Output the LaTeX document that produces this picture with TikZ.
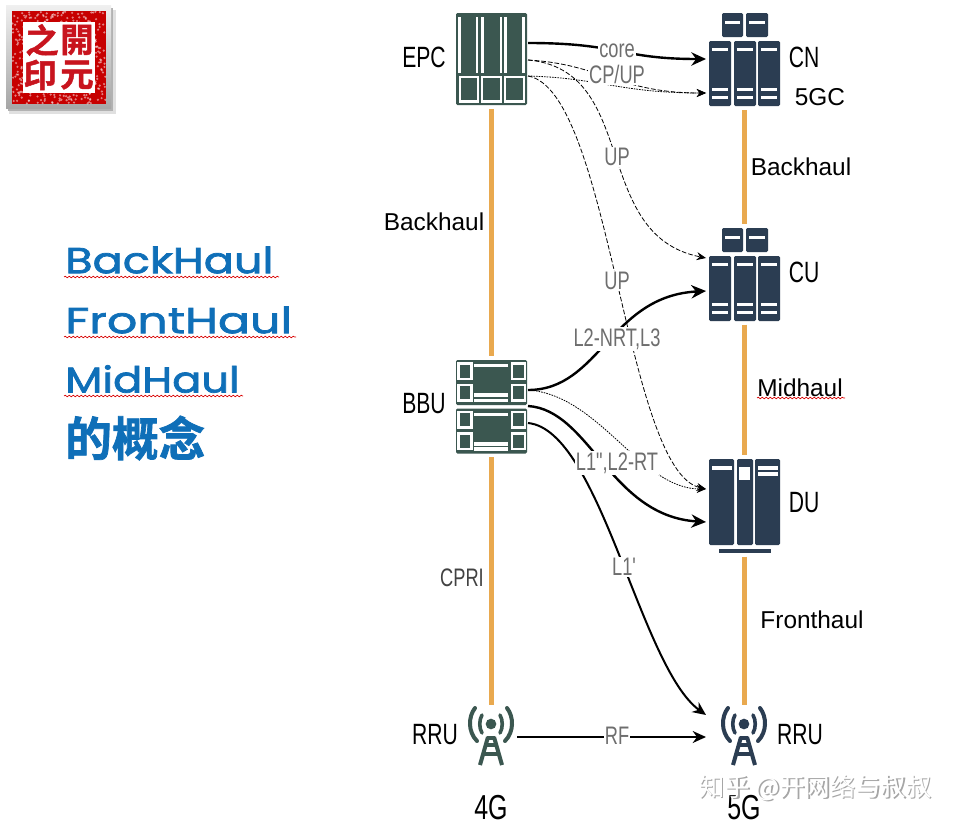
\documentclass[tikz,border=0pt]{standalone}
\usepackage{fontspec}
\usetikzlibrary{arrows.meta,decorations.pathmorphing}
\setmainfont{Liberation Sans}
\newfontfamily\narfont[FakeStretch=0.72]{Liberation Sans}
\newfontfamily\widefontA[FakeStretch=1.24,FakeBold=2]{Poppins}
\newfontfamily\widefontB[FakeStretch=1.32,FakeBold=2]{Poppins}
\newfontfamily\widefontC[FakeStretch=1.2,FakeBold=2]{Poppins}
\newfontfamily\cjkb[FakeBold=1.5]{Noto Sans CJK TC Bold}
\newfontfamily\cjkn{Noto Sans CJK SC}
\definecolor{orangeline}{HTML}{E9A94F}
\definecolor{gicon}{HTML}{3B5750}
\definecolor{bicon}{HTML}{2B3D52}
\definecolor{titleblue}{HTML}{0F6FB8}
\definecolor{sealred}{HTML}{C8141E}
\definecolor{labelgrey}{HTML}{6E6E6E}
\def\pxu{0.75pt}
\tikzset{
 x=0.75pt,y=-0.75pt,
 iconbox/.style={inner sep=0,outer sep=0,draw=none},
 link/.style={draw=orangeline,line width=3.6pt,shorten <=3pt,shorten >=3pt},
 bigarrow/.style={draw=black,line width=1.8pt,-{Stealth[length=11pt,width=10pt]}},
 thinarrow/.style={draw=black,line width=1.2pt,-{Stealth[length=10pt,width=9pt]}},
 dasharrow/.style={draw=black,line width=0.6pt,dash pattern=on 3.5pt off 1.5pt,-{Stealth[length=7pt,width=6pt]}},
 dotarrow/.style={draw=black,line width=0.6pt,dash pattern=on 1.2pt off 0.8pt,-{Stealth[length=7pt,width=6pt]}},
 greylab/.style={font=\narfont\fontsize{19}{19}\selectfont,text=labelgrey,fill=white,inner sep=1pt},
 devlab/.style={font=\narfont\fontsize{22}{22}\selectfont,text=black,inner sep=0},
 glab/.style={font=\narfont\fontsize{26}{26}\selectfont,text=black,inner sep=0},
 halflab/.style={font=\fontsize{18.3}{18.3}\selectfont,text=black,inner sep=0},
 titlelab/.style={anchor=west,inner sep=0,text=titleblue},
 wavy/.style={draw=red!85!black,line width=0.5pt,decorate,decoration={snake,amplitude=0.6pt,segment length=3pt}},
 wbar/.style={fill=white,draw=none},
 wbox/.style={draw=white,line width=1.9pt,fill=none},
 sealchar/.style={inner sep=0,text=sealred,font=\cjkb\fontsize{25}{25}\selectfont},
}
\newcommand{\srvcolumn}[2]{% x1 x2
 \fill[bicon,rounded corners=1pt] (#1,28) rectangle (#2,93);
 \fill[wbar] (#1+3,35) rectangle (#2-3,38);
 \fill[wbar] (#1+3,75) rectangle (#2-3,78);
 \fill[wbar] (#1+3,83) rectangle (#2-3,86);
}
\newcommand{\servericon}[1]{% y of the top of the upper boxes
 \begin{scope}[shift={(0,#1)}]
  \fill[bicon,rounded corners=1pt] (722,0) rectangle (743,24);
  \fill[bicon,rounded corners=1pt] (746,0) rectangle (768,24);
  \fill[wbar] (725,8) rectangle (740,11);
  \fill[wbar] (749,8) rectangle (765,11);
  \srvcolumn{709}{731}
  \srvcolumn{734}{756}
  \srvcolumn{758}{780}
 \end{scope}
}
\newcommand{\bbuunit}[1]{% y of the top
 \begin{scope}[shift={(0,#1)}]
  \fill[gicon,rounded corners=1pt] (456,0) rectangle (527,45);
  \draw[wbox] (458.5,3.5) rectangle (471.5,19);
  \draw[wbox] (458.5,25) rectangle (471.5,40.5);
  \draw[wbox] (512,3.5) rectangle (525,19);
  \draw[wbox] (512,25) rectangle (525,40.5);
  \fill[wbar] (474,4) rectangle (508,7);
  \fill[wbar] (474,33) rectangle (508,37);
  \fill[wbar] (474,38.5) rectangle (508,42);
 \end{scope}
}
\newcommand{\rruicon}[3]{% x, y of centre, colour
 \begin{scope}[shift={(#1,#2)},#3,line cap=round]
  \fill (0,0) circle[radius=4pt];
  \draw[line width=3pt] (-16,-16) .. controls (-23,-7) and (-23,8) .. (-14,17);
  \draw[line width=3pt] (16,-16) .. controls (23,-7) and (23,8) .. (14,17);
  \draw[line width=2.7pt] (-9,-9) .. controls (-12,-4) and (-12,4) .. (-9,9);
  \draw[line width=2.7pt] (9,-9) .. controls (12,-4) and (12,4) .. (9,9);
  \draw[line width=3pt,line cap=butt] (-3,13) -- (-11,41);
  \draw[line width=3pt,line cap=butt] (3,13) -- (11,41);
  \draw[line width=2.5pt,line cap=butt] (-4,14) -- (4,14);
  \draw[line width=2.5pt,line cap=butt] (-6,21) -- (6,21);
  \draw[line width=2.5pt,line cap=butt] (-9,30) -- (9,30);
 \end{scope}
}
\begin{document}
\begin{tikzpicture}
\useasboundingbox (0,0) rectangle (957,828);
\fill[white] (0,0) rectangle (957,828);

% seal
\fill[black!12] (9,10) rectangle (116,114);
\fill[black!30] (8,8) rectangle (113,111);
\shade[top color=black!6,bottom color=black!35] (6,5) rectangle (111,108);
\fill[red!78!black] (12,11) rectangle (106,104);
\pgfmathsetseed{7}
\foreach \i in {1,...,520}{
 \pgfmathsetmacro{\sx}{12.5+rnd*93}
 \pgfmathsetmacro{\sy}{11.5+rnd*92}
 \fill[white,opacity=0.5] (\sx,\sy) circle[radius=0.9pt];
}
\fill[white] (23,22) rectangle (95,93);
\node[sealchar] (sealA) at (42,40) {之};
\node[sealchar] (sealB) at (77,40) {開};
\node[sealchar] (sealC) at (40,75) {印};
\node[sealchar] (sealD) at (77,75) {元};

% title
\node[titlelab,font=\widefontA\fontsize{27}{27}\selectfont] (t1) at (65,260) {BackHaul};
\node[titlelab,font=\widefontB\fontsize{27}{27}\selectfont] (t2) at (65,320) {FrontHaul};
\node[titlelab,font=\widefontC\fontsize{27}{27}\selectfont] (t3) at (65,379) {MidHaul};
\node[titlelab,font=\cjkb\fontsize{35}{35}\selectfont] (t4) at (65,438) {的概念};
\draw[wavy] (64,277) -- (279,277);
\draw[wavy] (64,337) -- (296,337);
\draw[wavy] (64,396) -- (243,396);

% anchor nodes
\node[iconbox,minimum width=71*\pxu,minimum height=92*\pxu] (epc) at (491.5,59) {};
\node[iconbox,minimum width=71*\pxu,minimum height=93*\pxu] (cn) at (744.5,59.5) {};
\node[iconbox,minimum width=71*\pxu,minimum height=93*\pxu] (cu) at (744.5,274) {};
\node[iconbox,minimum width=71*\pxu,minimum height=93*\pxu] (bbu) at (491.5,406.5) {};
\node[iconbox,minimum width=71*\pxu,minimum height=94*\pxu] (du) at (744.5,505.5) {};
\node[iconbox,minimum width=46*\pxu,minimum height=52*\pxu] (rrul) at (491.5,735) {};
\node[iconbox,minimum width=46*\pxu,minimum height=52*\pxu] (rrur) at (744.5,735) {};

% orange links
\draw[link] (epc) -- (bbu);
\draw[link] (bbu) -- (rrul);
\draw[link] (cn) -- (cu);
\draw[link] (cu) -- (du);
\draw[link] (du) -- (rrur);

% EPC icon
\fill[gicon,rounded corners=1pt] (456,13) rectangle (527,105);
\foreach \xx in {459.5,477,482.5,501,505.5,523.5}{\fill[white] (\xx-1.2,17) rectangle (\xx+1.2,73);}
\draw[wbox] (460,77) rectangle (478,101.5);
\draw[wbox] (482,77) rectangle (501,101.5);
\draw[wbox] (505,77) rectangle (524,101.5);

% server icons
\servericon{13}
\servericon{228}

% BBU icon
\bbuunit{360}
\bbuunit{408.5}

% DU icon
\fill[bicon,rounded corners=1pt] (709,459) rectangle (734,545);
\fill[bicon,rounded corners=1pt] (737,459) rectangle (753,545);
\fill[bicon,rounded corners=1pt] (755,459) rectangle (780,545);
\fill[bicon] (719,549) rectangle (771,552.5);
\fill[wbar] (712,466) rectangle (732,470);
\fill[wbar] (739,467) rectangle (750,480);
\fill[wbar] (758,466) rectangle (778,470);
\fill[wbar] (758,472) rectangle (778,476);

% RRU icons
\rruicon{491}{724}{color=gicon}
\rruicon{744}{724}{color=bicon}

% connector ends
\coordinate (epcA) at (528,43);
\coordinate (epcB) at (528,60);
\coordinate (epcC) at (528,76);
\coordinate (bbuA) at (528,390);
\coordinate (bbuB) at (528,406);
\coordinate (bbuC) at (528,423);
\coordinate (rruO) at (517,737);
\coordinate (cnA) at (706,59);
\coordinate (cnB) at (706,93);
\coordinate (cuA) at (706,258);
\coordinate (cuB) at (706,291);
\coordinate (duA) at (706,489);
\coordinate (duB) at (706,522);
\coordinate (rruA) at (706,715);
\coordinate (rruB) at (706,737);

% connectors
\draw[dasharrow] (epcB) .. controls (640,70) and (590,235) .. (cuA);
\draw[dasharrow] (epcC) .. controls (610,90) and (625,471) .. (duA);
\draw[dasharrow] (epcB) .. controls (600,64) and (620,93) .. (cnB);
\draw[dotarrow] (epcC) .. controls (600,78) and (620,93) .. (cnB);
\draw[dotarrow] (bbuA) .. controls (600,395) and (640,489) .. (duA);
\draw[bigarrow] (epcA) .. controls (620,43) and (620,59) .. (cnA);
\draw[bigarrow] (bbuA) .. controls (600,390) and (610,296) .. (cuB);
\draw[bigarrow] (bbuB) .. controls (590,410) and (610,516) .. (duB);
\draw[thinarrow,line width=1.5pt] (bbuC) .. controls (600,430) and (640,667) .. (rruA);
\draw[thinarrow] (rruO) -- (rruB);

% connector labels
\node[greylab] (lcore) at (617,51) {core};
\node[greylab] (lcp) at (617,74) {CP/UP};
\node[greylab] (lup1) at (617,157) {UP};
\node[greylab] (lup2) at (617,281) {UP};
\node[greylab] (lnrt) at (617,339) {L2-NRT,L3};
\node[greylab] (lrt) at (617,463) {L1",L2-RT};
\node[greylab] (lone) at (624,567) {L1'};
\node[greylab] (lrf) at (617,736) {RF};
\node[greylab,fill=none,text=labelgrey!60!black] (lcpri) at (462,578) {CPRI};

% device labels
\node[devlab] (nepc) at (424,57) {EPC};
\node[devlab] (ncn) at (804,57) {CN};
\node[devlab] (ncu) at (804,272) {CU};
\node[devlab] (nbbu) at (424,404) {BBU};
\node[devlab] (ndu) at (804,503) {DU};
\node[devlab] (nrl) at (435,735) {RRU};
\node[devlab] (nrr) at (800,735) {RRU};
\node[glab] (n4g) at (491,808) {4G};
\node[glab] (n5g) at (744,808) {5G};

\node[halflab] (n5gc) at (820,97) {5GC};
\node[halflab] (hb1) at (801,167) {Backhaul};
\node[halflab] (hb2) at (434,222) {Backhaul};
\node[halflab] (hm) at (800,388) {Midhaul};
\node[halflab] (hf) at (812,620) {Fronthaul};
\draw[wavy] (757,398) -- (845,398);

% watermark
\node[inner sep=0,text=black!35,font=\cjkn\fontsize{19}{19}\selectfont] (wm1) at (817,789) {知乎 @开网络与叔叔};
\node[inner sep=0,text=white,font=\cjkn\fontsize{19}{19}\selectfont] (wm2) at (815.5,787.5) {知乎 @开网络与叔叔};
\end{tikzpicture}
\end{document}
